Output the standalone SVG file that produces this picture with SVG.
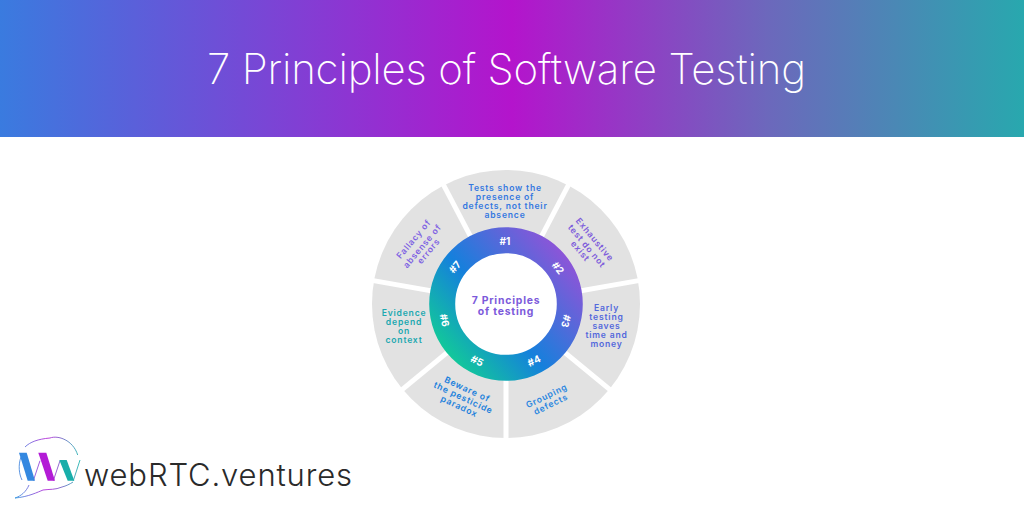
<svg xmlns="http://www.w3.org/2000/svg" width="1024" height="512" viewBox="0 0 1024 512">
<style>
.seg{fill:#e2e2e2}
.gap{stroke:#fff;stroke-width:5;fill:none}
.lb{font-family:"Inter","Liberation Sans",sans-serif;font-weight:600;font-size:8.6px;letter-spacing:.8px;text-anchor:middle}
.ct{font-size:10.4px;font-weight:700}
.num{font-family:"Inter","Liberation Sans",sans-serif;font-weight:700;font-size:10px;fill:#fff;text-anchor:middle}
.c1{fill:#3478e0}.c2{fill:#7c5adb}.c3{fill:#5268dc}.c4{fill:#2a86e0}.c5{fill:#1a80dc}.c6{fill:#1ba8b0}.c7{fill:#7f62e2}
</style>
<defs>
<linearGradient id="hdr" x1="0" y1="0" x2="1024" y2="0" gradientUnits="userSpaceOnUse">
<stop offset="0" stop-color="#3a7bdf"/><stop offset=".5" stop-color="#b414cc"/><stop offset=".75" stop-color="#6c68bc"/><stop offset="1" stop-color="#28a8ae"/>
</linearGradient>
<linearGradient id="ring" x1="447" y1="353.5" x2="565" y2="254.5" gradientUnits="userSpaceOnUse">
<stop offset="0" stop-color="#12c89a"/><stop offset=".42" stop-color="#1580dc"/><stop offset="1" stop-color="#8c55d8"/>
</linearGradient>
<linearGradient id="bub" x1="15" y1="0" x2="80" y2="0" gradientUnits="userSpaceOnUse">
<stop offset="0" stop-color="#3a9be0"/><stop offset=".5" stop-color="#b82ad8"/><stop offset="1" stop-color="#22b8b0"/>
</linearGradient>
</defs>
<rect width="1024" height="512" fill="#fff"/>
<rect id="header" width="1024" height="137" fill="url(#hdr)"/>
<text x="207" y="84" font-family="Inter,'Liberation Sans',sans-serif" font-weight="200" font-size="42" fill="#fff" textLength="599">7 Principles of Software Testing</text>

<g id="wheel">
<circle class="seg" cx="506" cy="304" r="134"/>
<g id="connectors">
<path class="gap" d="M506 304V165" transform="rotate(180 506 304)"/>
<path class="gap" d="M506 304V165" transform="rotate(27.7 506 304)"/>
<path class="gap" d="M506 304V165" transform="rotate(-27.7 506 304)"/>
<path class="gap" d="M506 304V165" transform="rotate(80 506 304)"/>
<path class="gap" d="M506 304V165" transform="rotate(-80 506 304)"/>
<path class="gap" d="M506 304V165" transform="rotate(129.5 506 304)"/>
<path class="gap" d="M506 304V165" transform="rotate(-129.5 506 304)"/>
</g>
<circle cx="506" cy="304" r="63.8" fill="#fff" stroke="url(#ring)" stroke-width="26"/>
</g>

<g id="n0"><text x="506" y="304" class="lb c2 ct">7 Principles</text><text x="506" y="315" class="lb c2 ct">of testing</text></g>

<g id="n1"><text x="505" y="191" class="lb c1">Tests show the</text><text x="505" y="200" class="lb c1">presence of</text><text x="505" y="209" class="lb c1">defects, not their</text><text x="505" y="218" class="lb c1">absence</text><text x="505" y="245" class="num">#1</text></g>
<g id="n2"><g class="lb c2"><text transform="translate(592.5 241.5) rotate(50)">Exhaustive</text><text transform="translate(584.5 248) rotate(50)">test do not</text><text transform="translate(578 253) rotate(50)">exist</text></g><text class="num" transform="translate(555.3 270.2) rotate(51)">#2</text></g>
<g id="n3"><g class="lb c3"><text x="606.5" y="311">Early</text><text x="606.5" y="320">testing</text><text x="606.5" y="329">saves</text><text x="606.5" y="338">time and</text><text x="606.5" y="347">money</text></g><text class="num" transform="translate(562.6 320.2) rotate(103)">#3</text></g>
<g id="n4"><g class="lb c4"><text transform="translate(548 398.5) rotate(-26)">Grouping</text><text transform="translate(552 407) rotate(-26)">defects</text></g><text class="num" transform="translate(535.5 364) rotate(-26)">#4</text></g>
<g id="n5"><g class="lb c5"><text transform="translate(466 392) rotate(25)">Beware of</text><text transform="translate(462 400.5) rotate(25)">the pesticide</text><text transform="translate(458 409) rotate(25)">paradox</text></g><text class="num" transform="translate(475.5 364) rotate(26)">#5</text></g>
<g id="n6"><g class="lb c6"><text x="404" y="316">Evidence</text><text x="404" y="325">depend</text><text x="404" y="334">on</text><text x="404" y="343">context</text></g><text class="num" transform="translate(441 321) rotate(77)">#6</text></g>
<g id="n7"><g class="lb c7"><text transform="translate(416 241) rotate(-50)">Fallacy of</text><text transform="translate(424.5 248) rotate(-50)">absense of</text><text transform="translate(431 253) rotate(-50)">errors</text></g><text class="num" transform="translate(457.7 269.2) rotate(-51)">#7</text></g>

<g id="logo">
<path d="M77.7 455C73 440 58 435 50 438C38 439 30 442 25 447M21 457C18 465 19 474 22 480M29 485C26 492 21 496 15 498C28 497 38 492 43 490C50 489 55 490 62 487C66 486 70 484 73 482" fill="none" stroke="url(#bub)" stroke-width=".9"/>
<path d="M33.3 480.7L40 460.7M53.3 480.7L60 460.7M73.3 480.7L80 460" fill="none" stroke="url(#bub)" stroke-width=".9"/>
<polygon points="19,452.7 26.7,452.7 35,480.7 27.7,480.7" fill="#3488e0"/>
<polygon points="38.3,452.7 46.3,452.7 55,480.7 47.7,480.7" fill="#b31cd6"/>
<polygon points="59.3,460 66.7,460 74.3,480.7 67.7,480.7" fill="#18aeaa"/>
<text x="84" y="486" font-family="Inter,'Liberation Sans',sans-serif" font-weight="300" font-size="31" fill="#2a2a2a" textLength="268">webRTC.ventures</text>
</g>
</svg>
